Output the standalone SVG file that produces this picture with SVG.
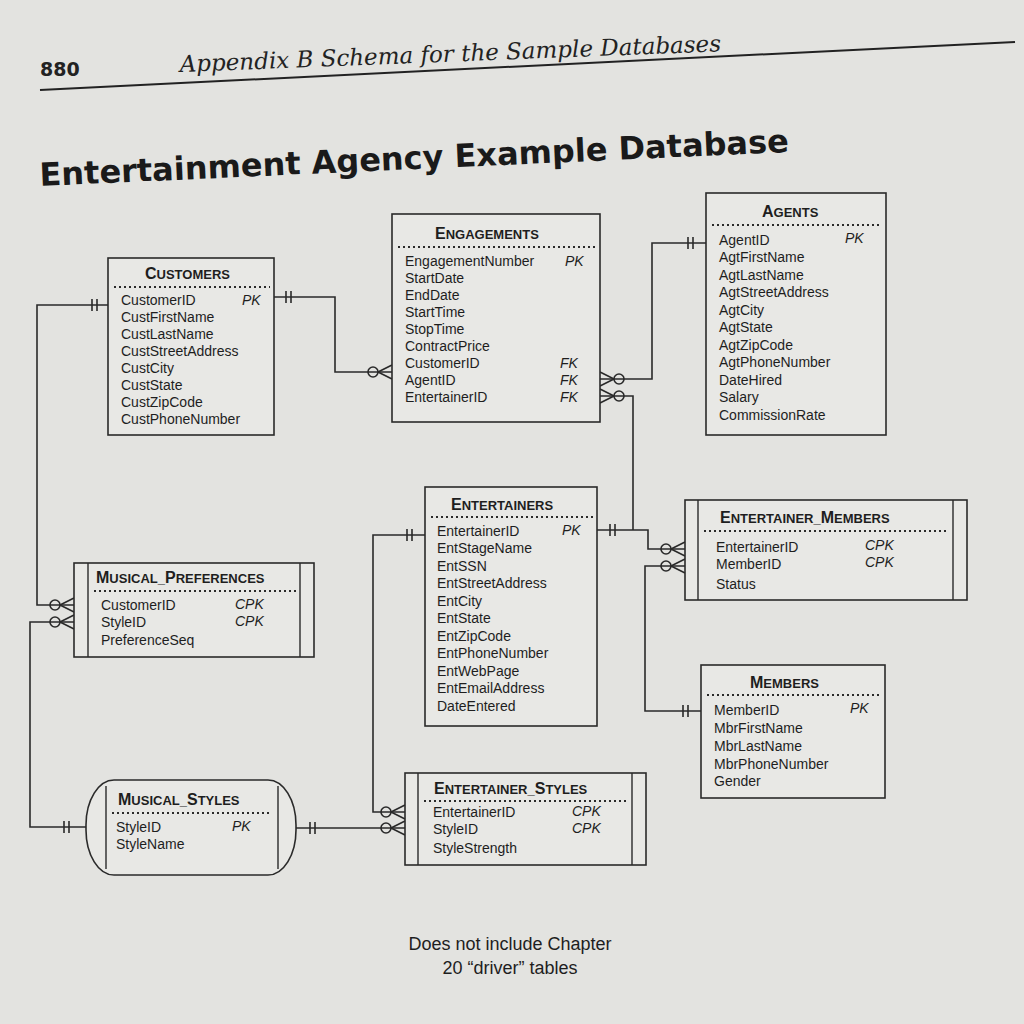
<svg xmlns="http://www.w3.org/2000/svg" width="1024" height="1024" viewBox="0 0 1024 1024">
<style>
.bg{fill:#e3e3e0}
.box{fill:#e8e8e5;stroke:#2a2a2a;stroke-width:1.6}
.in{stroke:#2a2a2a;stroke-width:1.4}
.dot{stroke:#2a2a2a;stroke-width:2;stroke-dasharray:2,3}
.t{font-family:"Liberation Sans",Arial,sans-serif;font-size:14px;fill:#1e1e1e}
.k{font-family:"Liberation Sans",Arial,sans-serif;font-size:14px;font-style:italic;fill:#1e1e1e}
.h{font-family:"Liberation Sans",Arial,sans-serif;font-size:13px;font-weight:bold;fill:#1e1e1e}
.h tspan{font-size:16px}
.c{fill:none;stroke:#2a2a2a;stroke-width:1.6}
</style>
<rect class="bg" width="1024" height="1024"/>
<g id="header">
<text x="40" y="76" font-family="DejaVu Sans,sans-serif" font-weight="bold" font-size="19" fill="#222">880</text>
<text x="180" y="72" font-family="DejaVu Serif,serif" font-style="italic" font-size="23" fill="#222" transform="rotate(-2.2 180 72)">Appendix B  Schema for the Sample Databases</text>
<line x1="40" y1="90" x2="1015" y2="42" stroke="#222" stroke-width="2"/>
<text x="40" y="186" font-family="DejaVu Sans,sans-serif" font-weight="bold" font-size="32" fill="#1a1a1a" transform="rotate(-2.6 40 186)">Entertainment Agency Example Database</text>
</g>
<g id="connectors" class="c">
<path d="M274,297 H335 V372 H392"/><path d="M286,291 v12 M291,291 v12"/><path d="M378,372 L392,365 M378,372 L392,379"/><circle cx="373" cy="372" r="5"/>
<path d="M108,305 H37 V605 H74"/><path d="M92,299 v12 M97,299 v12"/><path d="M60,605 L74,598 M60,605 L74,612"/><circle cx="55" cy="605" r="5"/>
<path d="M86,827 H30 V622 H74"/><path d="M64,821 v12 M69,821 v12"/><path d="M60,622 L74,615 M60,622 L74,629"/><circle cx="55" cy="622" r="5"/>
<path d="M296,828 H405"/><path d="M310,822 v12 M315,822 v12"/><path d="M391,828 L405,821 M391,828 L405,835"/><circle cx="386" cy="828" r="5"/>
<path d="M425,535 H373 V812 H405"/><path d="M407,529 v12 M412,529 v12"/><path d="M391,812 L405,805 M391,812 L405,819"/><circle cx="386" cy="812" r="5"/>
<path d="M706,243 H652 V379 H600"/><path d="M688,237 v12 M693,237 v12"/><path d="M614,379 L600,372 M614,379 L600,386"/><circle cx="619" cy="379" r="5"/>
<path d="M597,530 H648 V549 H685 M633,530 V396 H600"/><path d="M610,524 v12 M615,524 v12"/><path d="M614,396 L600,389 M614,396 L600,403"/><circle cx="619" cy="396" r="5"/><path d="M671,549 L685,542 M671,549 L685,556"/><circle cx="666" cy="549" r="5"/>
<path d="M701,711 H645 V566 H685"/><path d="M683,705 v12 M688,705 v12"/><path d="M671,566 L685,559 M671,566 L685,573"/><circle cx="666" cy="566" r="5"/>
</g>
<g id="customers">
<rect class="box" x="108" y="258" width="166" height="177"/>
<text class="h" x="145" y="279"><tspan>C</tspan>USTOMERS</text>
<line class="dot" x1="114" y1="287" x2="270" y2="287"/>
<text class="t" x="121" y="305">CustomerID</text><text class="k" x="242" y="305">PK</text>
<text class="t" x="121" y="322">CustFirstName</text>
<text class="t" x="121" y="339">CustLastName</text>
<text class="t" x="121" y="356">CustStreetAddress</text>
<text class="t" x="121" y="373">CustCity</text>
<text class="t" x="121" y="390">CustState</text>
<text class="t" x="121" y="407">CustZipCode</text>
<text class="t" x="121" y="424">CustPhoneNumber</text>
</g>
<g id="engagements">
<rect class="box" x="392" y="214" width="208" height="208"/>
<text class="h" x="435" y="239"><tspan>E</tspan>NGAGEMENTS</text>
<line class="dot" x1="398" y1="247" x2="596" y2="247"/>
<text class="t" x="405" y="266">EngagementNumber</text><text class="k" x="565" y="266">PK</text>
<text class="t" x="405" y="283">StartDate</text>
<text class="t" x="405" y="300">EndDate</text>
<text class="t" x="405" y="317">StartTime</text>
<text class="t" x="405" y="334">StopTime</text>
<text class="t" x="405" y="351">ContractPrice</text>
<text class="t" x="405" y="368">CustomerID</text><text class="k" x="560" y="368">FK</text>
<text class="t" x="405" y="385">AgentID</text><text class="k" x="560" y="385">FK</text>
<text class="t" x="405" y="402">EntertainerID</text><text class="k" x="560" y="402">FK</text>
</g>
<g id="agents">
<rect class="box" x="706" y="193" width="180" height="242"/>
<text class="h" x="762" y="217"><tspan>A</tspan>GENTS</text>
<line class="dot" x1="712" y1="225" x2="882" y2="225"/>
<text class="t" x="719" y="245">AgentID</text><text class="k" x="845" y="243">PK</text>
<text class="t" x="719" y="262">AgtFirstName</text>
<text class="t" x="719" y="280">AgtLastName</text>
<text class="t" x="719" y="297">AgtStreetAddress</text>
<text class="t" x="719" y="315">AgtCity</text>
<text class="t" x="719" y="332">AgtState</text>
<text class="t" x="719" y="350">AgtZipCode</text>
<text class="t" x="719" y="367">AgtPhoneNumber</text>
<text class="t" x="719" y="385">DateHired</text>
<text class="t" x="719" y="402">Salary</text>
<text class="t" x="719" y="420">CommissionRate</text>
</g>
<g id="entertainers">
<rect class="box" x="425" y="487" width="172" height="239"/>
<text class="h" x="451" y="510"><tspan>E</tspan>NTERTAINERS</text>
<line class="dot" x1="431" y1="517" x2="593" y2="517"/>
<text class="t" x="437" y="536">EntertainerID</text><text class="k" x="562" y="535">PK</text>
<text class="t" x="437" y="553">EntStageName</text>
<text class="t" x="437" y="571">EntSSN</text>
<text class="t" x="437" y="588">EntStreetAddress</text>
<text class="t" x="437" y="606">EntCity</text>
<text class="t" x="437" y="623">EntState</text>
<text class="t" x="437" y="641">EntZipCode</text>
<text class="t" x="437" y="658">EntPhoneNumber</text>
<text class="t" x="437" y="676">EntWebPage</text>
<text class="t" x="437" y="693">EntEmailAddress</text>
<text class="t" x="437" y="711">DateEntered</text>
</g>
<g id="entertainer_members">
<rect class="box" x="685" y="500" width="282" height="100"/>
<line class="in" x1="698" y1="500" x2="698" y2="600"/><line class="in" x1="953" y1="500" x2="953" y2="600"/>
<text class="h" x="720" y="523"><tspan>E</tspan>NTERTAINER_<tspan>M</tspan>EMBERS</text>
<line class="dot" x1="704" y1="531" x2="948" y2="531"/>
<text class="t" x="716" y="552">EntertainerID</text><text class="k" x="865" y="550">CPK</text>
<text class="t" x="716" y="569">MemberID</text><text class="k" x="865" y="567">CPK</text>
<text class="t" x="716" y="589">Status</text>
</g>
<g id="members">
<rect class="box" x="701" y="665" width="184" height="133"/>
<text class="h" x="750" y="688"><tspan>M</tspan>EMBERS</text>
<line class="dot" x1="707" y1="695" x2="881" y2="695"/>
<text class="t" x="714" y="715">MemberID</text><text class="k" x="850" y="713">PK</text>
<text class="t" x="714" y="733">MbrFirstName</text>
<text class="t" x="714" y="751">MbrLastName</text>
<text class="t" x="714" y="769">MbrPhoneNumber</text>
<text class="t" x="714" y="786">Gender</text>
</g>
<g id="musical_preferences">
<rect class="box" x="74" y="563" width="240" height="94"/>
<line class="in" x1="88" y1="563" x2="88" y2="657"/><line class="in" x1="300" y1="563" x2="300" y2="657"/>
<text class="h" x="96" y="583"><tspan>M</tspan>USICAL_<tspan>P</tspan>REFERENCES</text>
<line class="dot" x1="94" y1="591" x2="296" y2="591"/>
<text class="t" x="101" y="610">CustomerID</text><text class="k" x="235" y="609">CPK</text>
<text class="t" x="101" y="627">StyleID</text><text class="k" x="235" y="626">CPK</text>
<text class="t" x="101" y="645">PreferenceSeq</text>
</g>
<g id="musical_styles">
<rect class="box" x="86" y="780" width="210" height="95" rx="28" ry="45"/>
<line class="in" x1="106" y1="786" x2="106" y2="869"/><line class="in" x1="278" y1="786" x2="278" y2="869"/>
<text class="h" x="118" y="805"><tspan>M</tspan>USICAL_<tspan>S</tspan>TYLES</text>
<line class="dot" x1="112" y1="813" x2="272" y2="813"/>
<text class="t" x="116" y="832">StyleID</text><text class="k" x="232" y="831">PK</text>
<text class="t" x="116" y="849">StyleName</text>
</g>
<g id="entertainer_styles">
<rect class="box" x="405" y="773" width="241" height="92"/>
<line class="in" x1="418" y1="773" x2="418" y2="865"/><line class="in" x1="632" y1="773" x2="632" y2="865"/>
<text class="h" x="434" y="794"><tspan>E</tspan>NTERTAINER_<tspan>S</tspan>TYLES</text>
<line class="dot" x1="424" y1="801" x2="628" y2="801"/>
<text class="t" x="433" y="817">EntertainerID</text><text class="k" x="572" y="816">CPK</text>
<text class="t" x="433" y="834">StyleID</text><text class="k" x="572" y="833">CPK</text>
<text class="t" x="433" y="853">StyleStrength</text>
</g>
<g id="footer">
<text x="510" y="950" text-anchor="middle" font-family="Liberation Sans,Arial,sans-serif" font-size="18" fill="#1e1e1e">Does not include Chapter</text>
<text x="510" y="974" text-anchor="middle" font-family="Liberation Sans,Arial,sans-serif" font-size="18" fill="#1e1e1e">20 “driver” tables</text>
</g>
</svg>
